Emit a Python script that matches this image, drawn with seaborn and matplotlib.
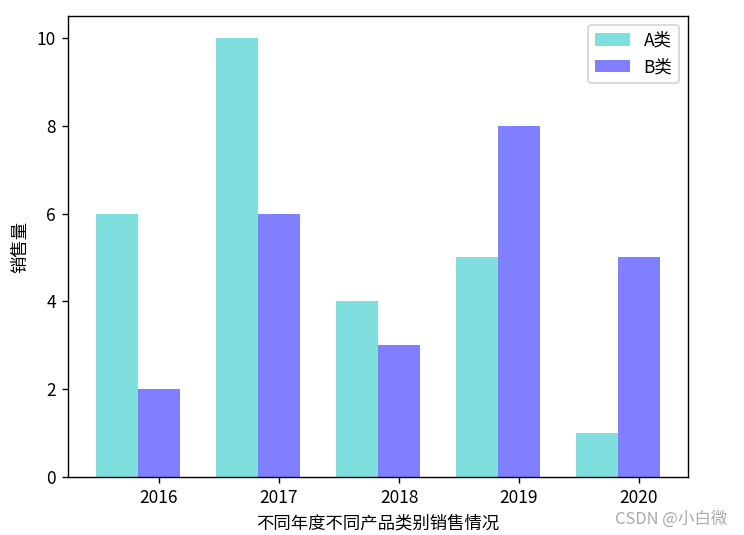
import numpy as np
import pandas as pd
import matplotlib
matplotlib.use("Agg")
import matplotlib.pyplot as plt
import seaborn as sns

years = ["2016", "2017", "2018", "2019", "2020"]
a_values = [6, 10, 4, 5, 1]
b_values = [2, 6, 3, 8, 5]
series_names = ["A类", "B类"]

plt.rcParams['font.family'] = ['Noto Sans CJK SC', 'DejaVu Sans']
plt.rcParams['axes.unicode_minus'] = False

df = pd.DataFrame({
    "year": years * 2,
    "value": a_values + b_values,
    "series": [series_names[0]] * len(years) + [series_names[1]] * len(years),
})

fig = plt.figure(figsize=(744 / 125, 535 / 125), dpi=125)
ax = fig.add_axes([68 / 744, 58 / 535, 620 / 744, 461 / 535])

sns.barplot(data=df, x="year", y="value", hue="series", order=years,
            hue_order=series_names, palette=["c", "blue"], alpha=0.5,
            saturation=1, width=0.7, ax=ax, errorbar=None, edgecolor="none",
            linewidth=0)

ax.set_xticks(np.arange(len(years)) + 0.175, years)
ax.set_xlim(-0.583, 4.583)
ax.set_ylim(0, 10.5)
ax.set_yticks([0, 2, 4, 6, 8, 10])
ax.set_xlabel("不同年度不同产品类别销售情况")
ax.set_ylabel("销售量")
handles, _ = ax.get_legend_handles_labels()
ax.legend(handles, series_names, loc="upper right")

fig.text(0.978, 0.03, "CSDN @小白微", color="#aaaaaa", ha="right", va="center", fontsize=9.5)

fig.savefig("out.png", dpi=125)
